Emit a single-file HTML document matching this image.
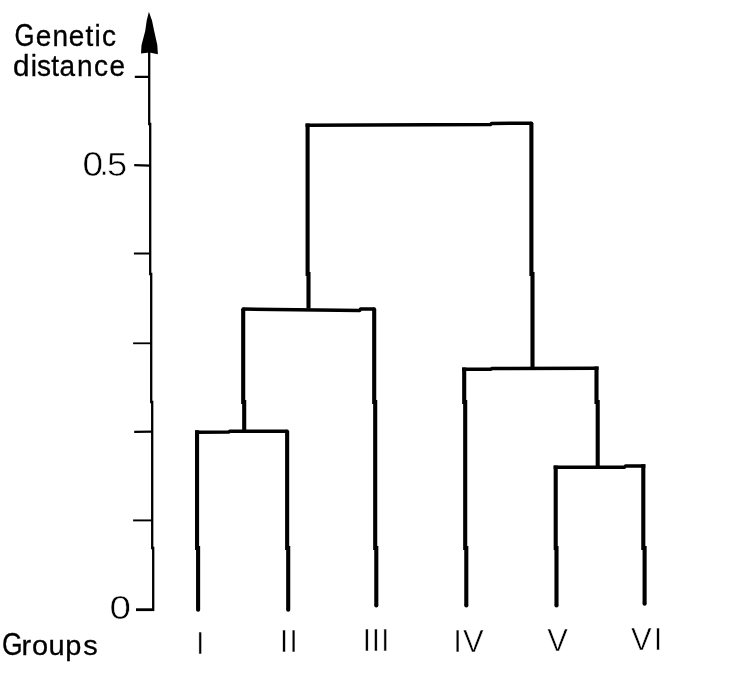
<!DOCTYPE html>
<html>
<head>
<meta charset="utf-8">
<title>Dendrogram</title>
<style>
html,body{margin:0;padding:0;background:#fff;}
body{width:735px;height:680px;overflow:hidden;font-family:"Liberation Sans",sans-serif;}
svg{display:block;position:absolute;left:0;top:0;will-change:transform;}
text{font-family:"Liberation Sans",sans-serif;fill:#000;}
</style>
</head>
<body>
<svg width="735" height="680" viewBox="0 0 735 680">
<rect x="0" y="0" width="735" height="680" fill="#ffffff"/>
<!-- axis -->
<g stroke="#000" fill="none" stroke-linecap="butt" stroke-linejoin="miter">
<polyline points="149.20,48.00 149.20,124.00 150.20,124.00 150.20,274.00 151.20,274.00 151.20,402.00 152.20,402.00 152.20,548.00 153.20,548.00 153.20,610.90" stroke-width="2.3"/>
<line x1="134.8" y1="76.9" x2="149.4" y2="76.8" stroke-width="2.2"/>
<line x1="134.2" y1="165.2" x2="150.2" y2="165.6" stroke-width="2.2"/>
<line x1="133.9" y1="253.5" x2="150.6" y2="253.5" stroke-width="2.0"/>
<line x1="133.1" y1="343.3" x2="151.2" y2="343.3" stroke-width="1.8"/>
<line x1="134.2" y1="431.8" x2="152.0" y2="431.7" stroke-width="2.3"/>
<line x1="133.1" y1="520.4" x2="152.4" y2="520.4" stroke-width="1.9"/>
<line x1="136.0" y1="609.7" x2="154.0" y2="609.7" stroke-width="2.8"/>
</g>
<path d="M148.9,11.8 L146.7,20.6 L145.2,30.9 L141.5,45.3 L141.0,53.5 L147.3,52.7 L150.6,52.7 L157.9,54.3 L157.3,45 L154.2,30.9 L152.0,20.6 Z" fill="#000"/>
<!-- dendrogram: horizontals -->
<g stroke="#000" fill="none" stroke-width="3.5" stroke-linecap="butt" stroke-linejoin="round">
<polyline points="305.55,125.20 490.50,124.40 491.50,123.40 531.40,123.30"/>
<circle cx="531.40" cy="123.40" r="1.90" fill="#000" stroke="none"/>
<polyline points="243.20,309.10 359.60,310.40 360.60,309.00 374.20,309.00"/>
<circle cx="243.20" cy="309.20" r="1.90" fill="#000" stroke="none"/>
<circle cx="374.20" cy="309.10" r="1.90" fill="#000" stroke="none"/>
<polyline points="195.00,432.20 228.60,432.10 229.60,431.35 287.15,431.35"/>
<circle cx="287.15" cy="431.45" r="1.90" fill="#000" stroke="none"/>
<polyline points="462.15,369.30 491.00,369.30 492.00,368.40 598.55,368.30"/>
<polyline points="553.65,467.30 624.50,467.20 625.50,466.00 645.35,466.00"/>
</g>
<!-- dendrogram: verticals -->
<g stroke="#000" fill="none" stroke-width="4.1" stroke-linecap="butt" stroke-linejoin="miter">
<polyline points="307.60,123.45 307.60,274.00 308.50,274.00 308.50,308.60"/>
<polyline points="531.40,123.30 531.40,274.00 532.50,274.00 532.50,367.60"/>
<polyline points="243.20,309.10 243.20,402.00 244.20,402.00 244.20,430.60"/>
<polyline points="374.20,309.00 374.20,402.00 375.20,402.00 375.20,548.00 376.30,548.00 376.30,605.30"/>
<ellipse cx="376.30" cy="605.60" rx="2.05" ry="2.00" fill="#000" stroke="none"/>
<polyline points="197.05,430.35 197.05,548.00 198.10,548.00 198.10,609.50"/>
<ellipse cx="198.10" cy="609.80" rx="2.05" ry="2.00" fill="#000" stroke="none"/>
<polyline points="287.15,431.20 287.15,548.00 288.20,548.00 288.20,609.50"/>
<ellipse cx="288.20" cy="609.80" rx="2.05" ry="2.00" fill="#000" stroke="none"/>
<polyline points="464.20,367.55 464.20,402.00 465.20,402.00 465.20,548.00 466.30,548.00 466.30,605.30"/>
<ellipse cx="466.30" cy="605.60" rx="2.05" ry="2.00" fill="#000" stroke="none"/>
<polyline points="596.50,366.55 596.50,402.00 597.70,402.00 597.70,466.00"/>
<polyline points="555.70,465.55 555.70,548.00 556.50,548.00 556.50,605.20"/>
<ellipse cx="556.50" cy="605.50" rx="2.05" ry="2.00" fill="#000" stroke="none"/>
<polyline points="643.30,464.25 643.30,548.00 644.60,548.00 644.60,603.40"/>
<ellipse cx="644.60" cy="603.70" rx="2.05" ry="2.00" fill="#000" stroke="none"/>
</g>
<!-- labels -->
<g font-size="28" stroke="#000" stroke-width="0.3">
<text transform="translate(0,46.3) scale(1,1.05)" y="0"><tspan x="14.4" font-size="29.6" textLength="20.0" lengthAdjust="spacingAndGlyphs">G</tspan><tspan x="35.8 52.6 68.8 85.6 94.6 102.0">enetic</tspan></text>
<text transform="translate(0,76.0) scale(1,1.055)" y="0"><tspan x="13.1" textLength="16.5" lengthAdjust="spacingAndGlyphs">d</tspan><tspan x="30.7 36.9 51.3 59.4 77.1 94.0 109.4">istance</tspan></text>
<text transform="translate(0,654.7) scale(1,0.98)" y="0" font-size="29"><tspan x="2.0" dy="0.6" font-size="32.5" textLength="20.6" lengthAdjust="spacingAndGlyphs">G</tspan><tspan x="21.5 32.1 48.6 65.3 83.2" dy="-0.6">roups</tspan></text>
</g>
<!-- axis numerals -->
<g font-size="33" stroke="#fff" stroke-width="0.55">
<text y="175.6"><tspan x="82.5" dy="0.7" font-size="35.3" textLength="20.6" lengthAdjust="spacingAndGlyphs">0</tspan><tspan x="99.6" dy="-0.9">.</tspan><tspan x="106.9" dy="0.1" textLength="20.2" lengthAdjust="spacingAndGlyphs">5</tspan></text>
<text y="618.7"><tspan x="109.6" textLength="21.5" lengthAdjust="spacingAndGlyphs">0</tspan></text>
</g>
<!-- roman numerals -->
<g font-size="31" stroke="#fff" stroke-width="0.55">
<text x="195.89" y="653.5">I</text>
<text x="279.79 289.19" y="652.4">II</text>
<text x="362.49 371.39 380.99" y="651.4">III</text>
<text x="453.34 463.06" y="652.2">IV</text>
<text x="547.36" y="651.3">V</text>
<text x="631.06 653.79" y="650.1">VI</text>
</g>
</svg>
</body>
</html>
